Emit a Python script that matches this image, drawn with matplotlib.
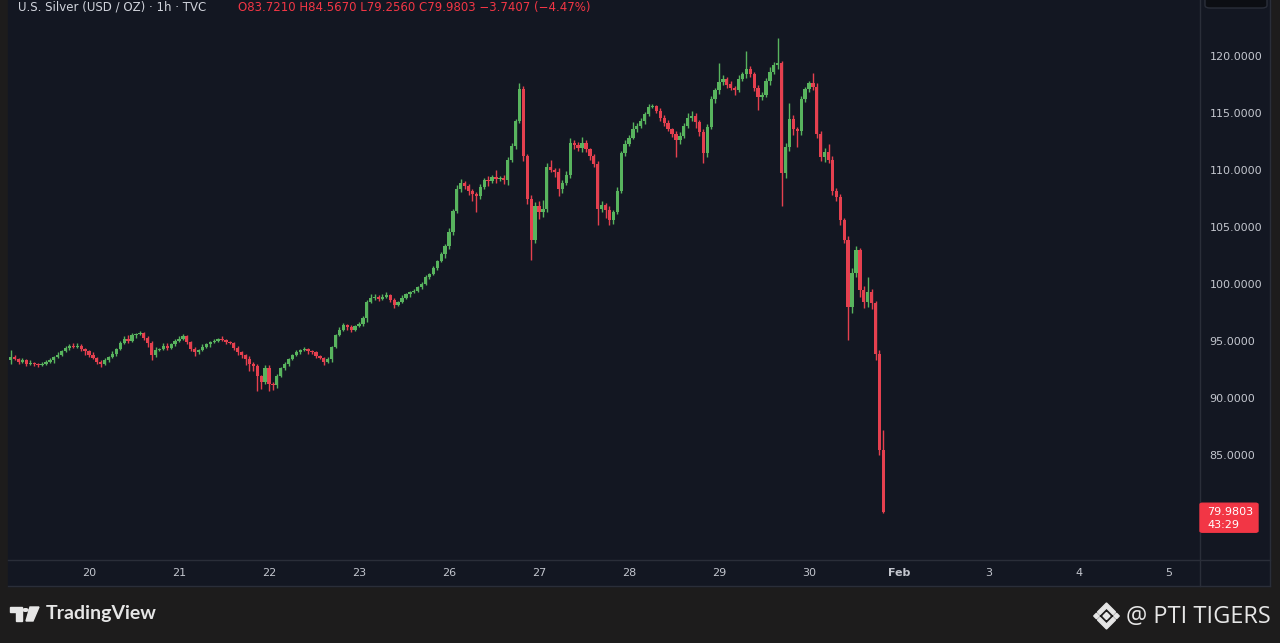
import matplotlib
matplotlib.use("Agg")
import matplotlib.pyplot as plt
from matplotlib.patches import Rectangle, Polygon, Circle, FancyBboxPatch

W, H = 1280, 643

# time axis labels (one per session)
x_labels = ["20", "21", "22", "23", "26", "27", "28", "29", "30", "Feb", "3", "4", "5"]
session_labels = ["19", "20", "21", "22", "23", "26", "27", "28", "29", "30"]
y_ticks = [85, 90, 95, 100, 105, 110, 115, 120]

# hourly candles: closes and wick lengths per session
first_open = 93.3

jan19_close = [93.6, 93.4, 93.2, 93.3, 93.0, 93.1, 93.0, 92.9, 93.0, 93.2, 93.3, 93.6, 93.8, 94.1, 94.4, 94.6, 94.5, 94.6, 94.3, 94.1]
jan19_up = [0.6, 0.2, 0.1, 0.2, 0.1, 0.2, 0.1, 0.1, 0.2, 0.1, 0.2, 0.1, 0.2, 0.1, 0.2, 0.1, 0.2, 0.2, 0.1, 0.1]
jan19_lo = [0.3, 0.1, 0.2, 0.1, 0.2, 0.1, 0.2, 0.2, 0.1, 0.1, 0.1, 0.2, 0.1, 0.1, 0.1, 0.2, 0.1, 0.1, 0.2, 0.3]

jan20_close = [93.8, 93.5, 93.2, 93.0, 93.3, 93.6, 93.9, 94.3, 94.8, 95.2, 95.0, 95.5, 95.6, 95.7, 95.3, 94.8, 93.8, 94.2, 94.3, 94.6, 94.4, 94.7, 95.0]
jan20_up = [0.1, 0.2, 0.1, 0.1, 0.2, 0.1, 0.2, 0.1, 0.2, 0.2, 0.3, 0.2, 0.1, 0.2, 0.1, 0.1, 0.2, 0.3, 0.1, 0.2, 0.2, 0.1, 0.2]
jan20_lo = [0.2, 0.1, 0.2, 0.3, 0.1, 0.1, 0.1, 0.2, 0.1, 0.1, 0.2, 0.1, 0.2, 0.1, 0.2, 0.3, 0.5, 0.2, 0.1, 0.1, 0.2, 0.1, 0.1]

jan21_close = [95.2, 95.4, 94.9, 94.3, 94.0, 94.2, 94.5, 94.7, 94.9, 95.0, 95.2, 95.1, 94.9, 94.8, 94.4, 94.0, 93.8, 93.4, 93.0, 92.8, 91.9, 91.4, 92.6]
jan21_up = [0.2, 0.2, 0.1, 0.1, 0.2, 0.1, 0.2, 0.1, 0.1, 0.2, 0.1, 0.2, 0.1, 0.1, 0.1, 0.2, 0.1, 0.1, 0.3, 0.2, 0.2, 0.1, 0.3]
jan21_lo = [0.1, 0.1, 0.2, 0.2, 0.3, 0.1, 0.1, 0.1, 0.2, 0.1, 0.1, 0.1, 0.2, 0.1, 0.2, 0.2, 0.3, 0.5, 0.6, 0.4, 1.3, 0.6, 0.2]

jan22_close = [91.2, 91.1, 91.9, 92.6, 93.0, 93.4, 93.8, 94.0, 94.2, 94.3, 94.1, 94.0, 93.7, 93.5, 93.2, 93.4, 94.5, 95.5, 96.0, 96.4, 96.2, 96.0, 96.3]
jan22_up = [0.3, 0.2, 0.2, 0.1, 0.2, 0.1, 0.1, 0.2, 0.1, 0.2, 0.1, 0.1, 0.1, 0.1, 0.1, 0.2, 0.1, 0.1, 0.2, 0.2, 0.1, 0.2, 0.1]
jan22_lo = [0.6, 0.4, 0.2, 0.1, 0.1, 0.2, 0.1, 0.1, 0.1, 0.1, 0.2, 0.1, 0.2, 0.1, 0.3, 0.1, 0.2, 0.1, 0.1, 0.1, 0.2, 0.2, 0.1]

jan23_close = [96.5, 97.0, 98.4, 98.8, 98.9, 98.7, 98.9, 99.0, 98.6, 98.2, 98.4, 98.8, 99.1, 99.3, 99.4, 99.7, 100.0, 100.6, 100.9, 101.4, 102.0, 102.6, 103.3]
jan23_up = [0.2, 0.2, 0.2, 0.3, 0.2, 0.1, 0.2, 0.3, 0.1, 0.2, 0.1, 0.2, 0.1, 0.1, 0.2, 0.1, 0.2, 0.2, 0.1, 0.2, 0.1, 0.2, 0.2]
jan23_lo = [0.1, 0.2, 0.3, 0.1, 0.2, 0.2, 0.1, 0.1, 0.2, 0.3, 0.1, 0.1, 0.1, 0.2, 0.1, 0.1, 0.1, 0.1, 0.2, 0.1, 0.2, 0.1, 0.3]

jan26_close = [104.6, 106.4, 108.3, 108.9, 108.6, 108.2, 107.9, 107.7, 108.5, 109.1, 109.0, 109.4, 109.2, 109.3, 109.1, 110.9, 112.1, 114.3, 117.1, 111.2, 107.5, 103.9, 106.8]
jan26_up = [0.3, 0.2, 0.4, 0.3, 0.1, 0.2, 0.1, 0.2, 0.3, 0.2, 0.4, 0.2, 0.6, 0.2, 0.3, 0.2, 0.3, 0.2, 0.5, 0.3, 0.2, 0.3, 0.4]
jan26_lo = [0.2, 0.3, 0.2, 0.2, 0.3, 0.4, 0.6, 1.4, 0.2, 0.2, 0.4, 0.1, 0.3, 0.2, 0.3, 0.4, 0.2, 0.3, 0.2, 0.4, 0.5, 1.8, 0.3]

jan27_close = [106.3, 106.6, 110.3, 110.0, 109.8, 108.3, 108.9, 109.6, 112.4, 112.2, 111.9, 112.4, 111.8, 111.2, 110.5, 106.6, 106.9, 106.5, 105.6, 106.3, 108.2, 111.5, 112.3]
jan27_up = [0.5, 0.8, 0.3, 0.6, 0.2, 0.4, 0.2, 0.3, 0.4, 0.2, 0.3, 0.5, 0.2, 0.1, 0.2, 0.3, 0.4, 0.2, 0.3, 0.2, 0.3, 0.2, 0.3]
jan27_lo = [0.6, 0.4, 0.3, 0.2, 0.4, 0.6, 0.3, 0.2, 0.3, 0.4, 0.2, 0.3, 0.2, 0.3, 0.2, 1.4, 0.3, 0.7, 0.4, 0.3, 0.2, 0.2, 0.3]

jan28_close = [112.8, 113.6, 113.9, 114.3, 114.9, 115.5, 115.6, 115.2, 114.6, 114.1, 113.6, 113.2, 112.6, 113.0, 113.9, 114.6, 114.7, 114.2, 113.3, 111.5, 113.8, 116.2, 117.0]
jan28_up = [0.3, 0.6, 0.2, 0.3, 0.2, 0.3, 0.2, 0.1, 0.2, 0.2, 0.3, 0.1, 0.2, 0.3, 0.2, 0.4, 0.5, 0.3, 0.2, 0.3, 0.2, 0.3, 0.2]
jan28_lo = [0.2, 0.1, 0.3, 0.2, 0.3, 0.2, 0.1, 0.2, 0.3, 0.2, 0.2, 0.3, 1.5, 0.3, 0.2, 0.2, 0.3, 0.5, 0.3, 0.9, 0.4, 0.2, 0.3]

jan29_close = [117.7, 118.0, 117.5, 117.2, 117.0, 118.0, 118.4, 118.9, 118.4, 117.2, 116.4, 116.6, 117.8, 118.6, 119.2, 119.4, 109.7, 112.0, 114.5, 113.6, 113.4, 116.2, 117.1]
jan29_up = [1.7, 0.3, 0.2, 0.3, 0.2, 0.3, 0.2, 1.5, 0.2, 0.2, 0.3, 0.2, 0.3, 0.4, 0.3, 2.2, 0.2, 0.4, 1.4, 0.3, 0.2, 0.3, 0.2]
jan29_lo = [0.3, 0.2, 0.3, 0.2, 0.4, 0.2, 0.2, 0.3, 0.2, 0.3, 1.1, 0.3, 0.2, 0.3, 0.2, 0.3, 2.9, 0.4, 0.3, 0.5, 1.4, 0.3, 0.2]

jan30_close = [117.6, 117.3, 113.2, 111.1, 111.6, 110.9, 108.2, 107.6, 105.6, 103.9, 98.0, 101.0, 103.0, 99.5, 98.4, 99.3, 98.3, 93.9, 85.4, 79.9803]
jan30_up = [0.2, 0.9, 0.3, 0.2, 0.3, 0.7, 0.3, 0.2, 0.3, 0.2, 0.3, 0.4, 0.3, 0.2, 0.3, 1.3, 0.3, 0.2, 0.3, 1.8]
jan30_lo = [0.3, 0.3, 0.4, 0.3, 0.4, 0.3, 0.4, 0.3, 0.4, 0.3, 2.9, 0.5, 0.4, 0.6, 0.5, 0.4, 0.5, 0.6, 0.4, 0.1]

closes = [jan19_close, jan20_close, jan21_close, jan22_close, jan23_close,
          jan26_close, jan27_close, jan28_close, jan29_close, jan30_close]
ups = [jan19_up, jan20_up, jan21_up, jan22_up, jan23_up,
       jan26_up, jan27_up, jan28_up, jan29_up, jan30_up]
los = [jan19_lo, jan20_lo, jan21_lo, jan22_lo, jan23_lo,
       jan26_lo, jan27_lo, jan28_lo, jan29_lo, jan30_lo]

BG = "#131722"
FOOT = "#1d1c1c"
LINE = "#2a2e39"
TXT = "#c3c6ce"
GREEN = "#58b45e"
RED = "#e5404f"
BARS_PER_DAY = 23


def fx(px):
    return px / W


def fy(py):
    return 1 - py / H


# build candle arrays
xs, opens, cl, hi, lo = [], [], [], [], []
prev = first_open
for i, (c_list, u_list, l_list) in enumerate(zip(closes, ups, los)):
    day = i - 1  # "19" sits one session before the first labelled day
    start = BARS_PER_DAY - len(c_list) if i == 0 else 0
    for k, (c, u, l) in enumerate(zip(c_list, u_list, l_list)):
        o = prev
        xs.append(day + (start + k) / BARS_PER_DAY)
        opens.append(o)
        cl.append(c)
        hi.append(max(o, c) + u)
        lo.append(min(o, c) - l)
        prev = c

colors = [GREEN if c >= o else RED for o, c in zip(opens, cl)]
bottoms = [min(o, c) for o, c in zip(opens, cl)]
heights = [max(abs(c - o), 0.1) for o, c in zip(opens, cl)]

fig = plt.figure(figsize=(W / 100, H / 100), dpi=100, facecolor=FOOT)
tf = fig.transFigure

# chart panel background (plot + price scale + time scale)
fig.patches.append(Rectangle((fx(8), fy(586)), fx(1270) - fx(8), fy(0) - fy(586),
                             transform=tf, color=BG, zorder=-10))

ax = fig.add_axes([fx(9), fy(559), fx(1199) - fx(9), fy(0) - fy(559)])
ax.set_zorder(2)
ax.set_facecolor(BG)
for s in ax.spines.values():
    s.set_visible(False)

ax.vlines(xs, lo, hi, colors=colors, linewidth=1, zorder=2)
ax.bar(xs, heights, bottom=bottoms, width=0.037, color=colors, linewidth=0, zorder=3)

ax.set_xlim((9 - 89) / 90, (1199 - 89) / 90)
ax.set_ylim(120 - (559 - 56) / 11.4, 120 + 56 / 11.4)

ax.yaxis.tick_right()
ax.set_yticks(y_ticks)
ax.set_yticklabels([f"{v:.4f}" for v in y_ticks])
ax.tick_params(axis="y", length=0, pad=7.5, labelsize=8, labelcolor=TXT)
ax.set_xticks(range(len(x_labels)))
ax.set_xticklabels(x_labels)
ax.tick_params(axis="x", length=0, pad=6.5, labelsize=8, labelcolor=TXT)
for t in ax.get_xticklabels():
    if t.get_text() == "Feb":
        t.set_fontweight("bold")

# panel separators
for y0 in (559.5, 585.5):
    fig.add_artist(plt.Line2D([fx(8), fx(1270)], [fy(y0), fy(y0)], color=LINE, lw=1, zorder=3))
for x0 in (1199.5, 1269.5):
    fig.add_artist(plt.Line2D([fx(x0), fx(x0)], [fy(0), fy(586)], color=LINE, lw=1, zorder=3))

# last price label on the price scale
last = jan30_close[-1]
ypx = H - ax.transData.transform((0, last))[1]
fig.patches.append(FancyBboxPatch((fx(1200), fy(ypx + 20)), fx(58), fy(0) - fy(29),
                                  boxstyle="round,pad=0,rounding_size=0.002",
                                  transform=tf, color="#f23645", zorder=5))
fig.text(fx(1207), fy(ypx), f"{last:.4f}", color="#ffffff", fontsize=8,
         va="center", ha="left", zorder=6)
fig.text(fx(1207), fy(ypx + 13), "43:29", color="#ffffff", fontsize=8,
         va="center", ha="left", zorder=6)

# top legend line
fig.text(fx(18), fy(0.5), "U.S. Silver (USD / OZ) · 1h · TVC", color="#d1d4dc",
         fontsize=8.5, va="top", ha="left", zorder=6)
fig.text(fx(238), fy(0.5), "O83.7210 H84.5670 L79.2560 C79.9803 −3.7407 (−4.47%)",
         color="#f23645", fontsize=8.5, va="top", ha="left", zorder=6)
fig.patches.append(FancyBboxPatch((fx(1205), fy(8)), fx(62), fy(0) - fy(14),
                                  boxstyle="round,pad=0,rounding_size=0.004",
                                  transform=tf, facecolor="#0c0e13",
                                  edgecolor=LINE, lw=1, zorder=5))

# TradingView logo
fig.patches.append(Polygon([(fx(10), fy(607)), (fx(22), fy(607)), (fx(22), fy(621)),
                            (fx(16), fy(621)), (fx(16), fy(612)), (fx(10), fy(612))],
                           closed=True, transform=tf, color="#e6e6e6"))
fig.patches.append(Circle((fx(25.5), fy(610)), fx(2.6), transform=tf, color="#e6e6e6"))
fig.patches.append(Polygon([(fx(30), fy(607)), (fx(39), fy(607)), (fx(33), fy(621)),
                            (fx(26), fy(621))], closed=True, transform=tf, color="#e6e6e6"))
fig.text(fx(46), fy(614), "TradingView", color="#e6e6e6", fontsize=14,
         fontweight="bold", family=["Lato", "DejaVu Sans"], va="center", ha="left")

# watermark
cx, cy = 1106.5, 616
wm = "#e6e6e6"


def diamond(x, y, r):
    return Polygon([(fx(x - r), fy(y)), (fx(x), fy(y - r)), (fx(x + r), fy(y)), (fx(x), fy(y + r))],
                   closed=True, transform=tf, color=wm)


for px, py, r in [(cx, cy, 3.5), (cx - 10, cy, 2.8), (cx + 10, cy, 2.8)]:
    fig.patches.append(diamond(px, py, r))
for sgn in (-1, 1):
    pts = [(cx - 9, cy + sgn * 4), (cx, cy + sgn * 13), (cx + 9, cy + sgn * 4),
           (cx + 6.5, cy + sgn * 1.5), (cx, cy + sgn * 8), (cx - 6.5, cy + sgn * 1.5)]
    fig.patches.append(Polygon([(fx(a), fy(b)) for a, b in pts], closed=True, transform=tf, color=wm))
fig.text(fx(1126), fy(617), "@ PTI TIGERS", color=wm, fontsize=17,
         family=["Open Sans", "DejaVu Sans"], va="center", ha="left")

fig.savefig("out.png", dpi=100, facecolor=FOOT)
